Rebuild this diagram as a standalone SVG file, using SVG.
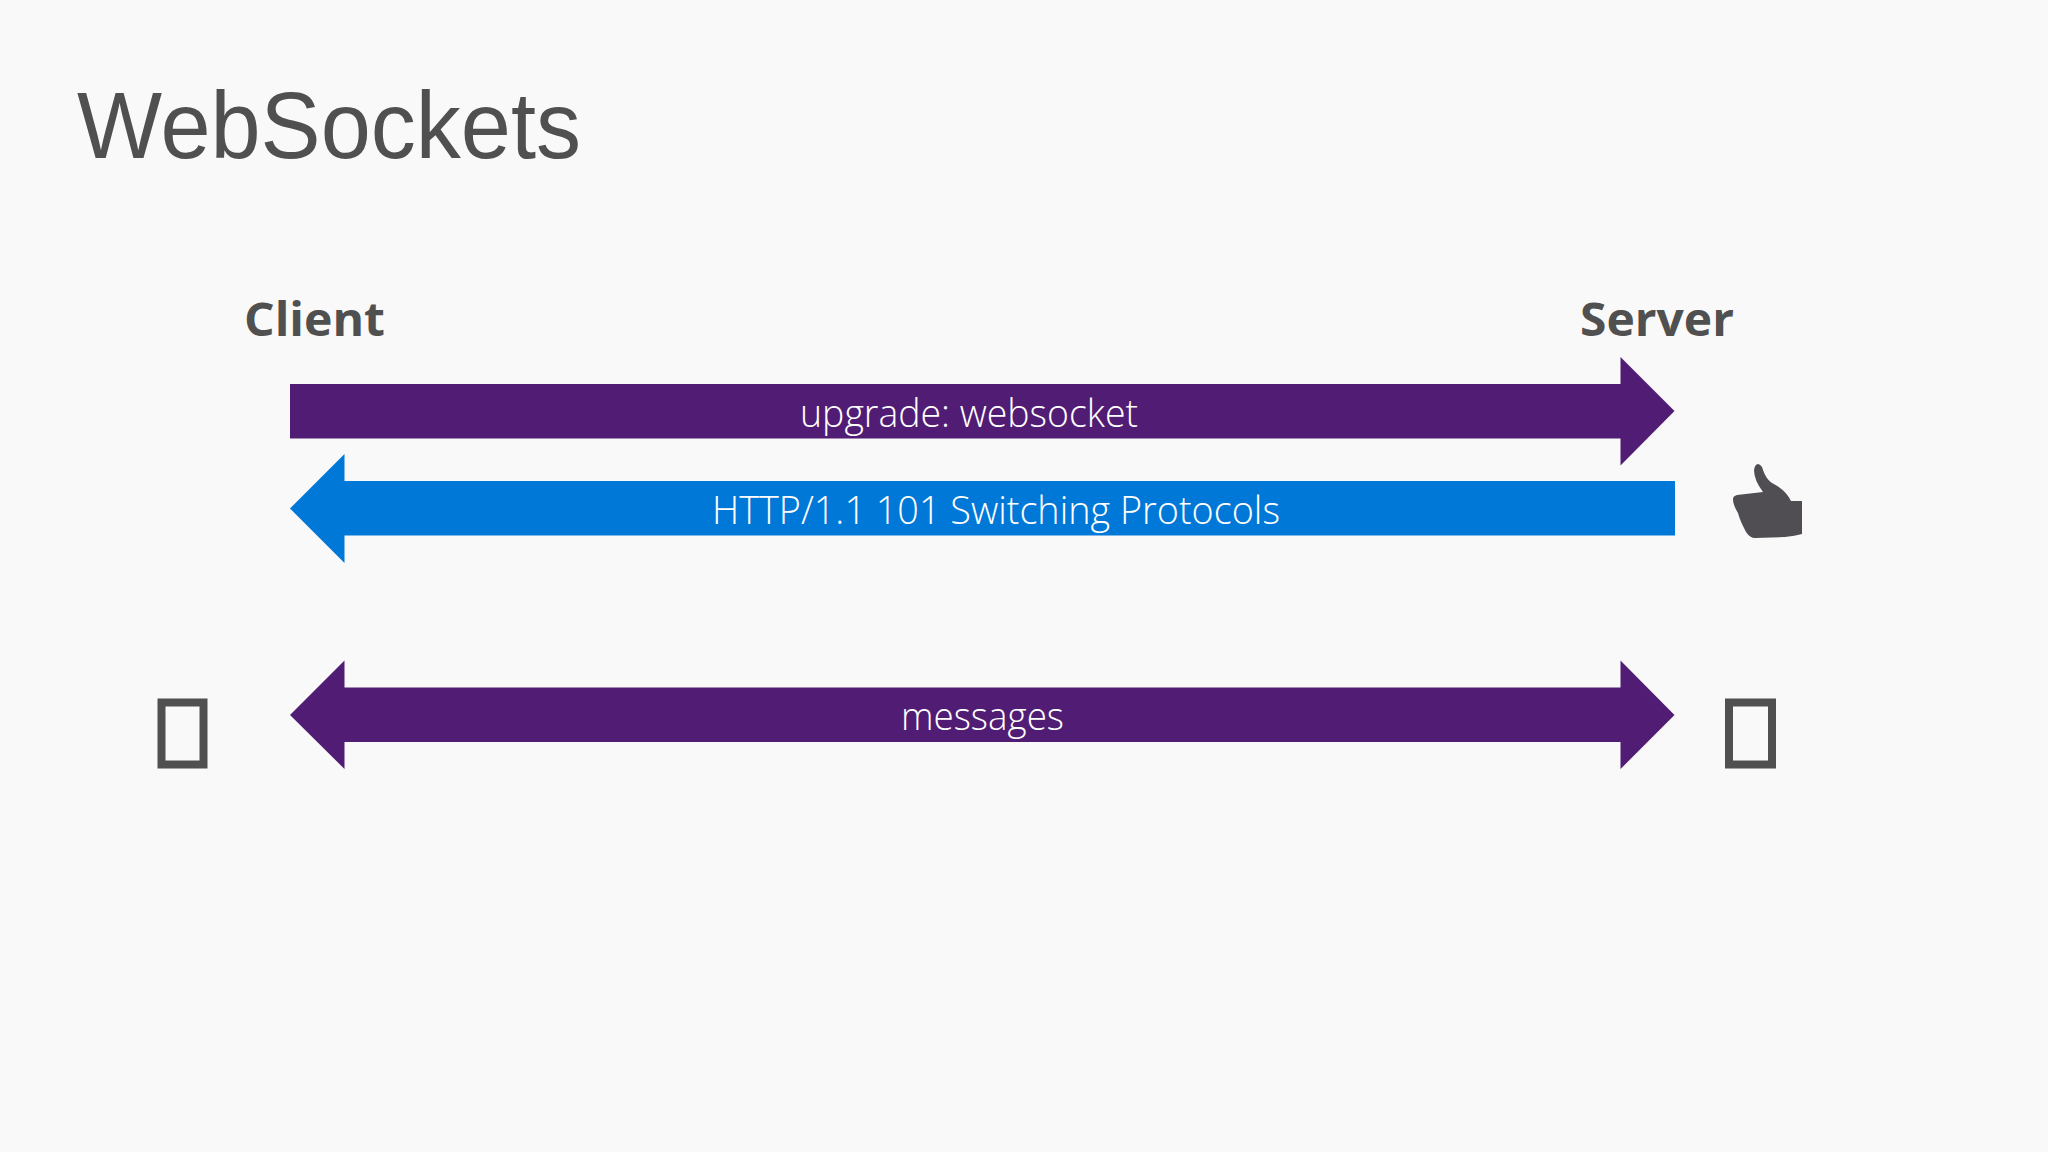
<svg xmlns="http://www.w3.org/2000/svg" width="2048" height="1152" viewBox="0 0 2048 1152">
<style>
.title{font-family:"Liberation Sans",Arial,sans-serif;font-size:95px;fill:#505050}
.head{font-family:"Open Sans","Noto Sans",sans-serif;font-weight:700;font-size:47px;fill:#505050}
.lbl{font-family:"Open Sans","Noto Sans",sans-serif;font-weight:350;font-size:38px;fill:#fff}
.purple{fill:#511c74}
.blue{fill:#0078d7}
.box{fill:none;stroke:#505050;stroke-width:8}
</style>
<rect width="2048" height="1152" fill="#f9f9f9"/>
<text id="title" class="title" x="77" y="158" textLength="504" lengthAdjust="spacingAndGlyphs">WebSockets</text>
<g id="client"><text class="head" x="244" y="336" textLength="141" lengthAdjust="spacingAndGlyphs">Client</text></g>
<g id="server"><text class="head" x="1580" y="336" textLength="154" lengthAdjust="spacingAndGlyphs">Server</text></g>
<g id="connectors">
<g id="upgrade"><polygon class="purple" points="290,384 1620.500,384 1620.500,357 1674.500,411 1620.500,465.500 1620.500,438.500 290,438.500"/>
<text class="lbl" x="800" y="426.500" textLength="338" lengthAdjust="spacingAndGlyphs">upgrade: websocket</text></g>
<g id="switching"><polygon class="blue" points="1675,481 344.500,481 344.500,454 290,508.500 344.500,563 344.500,535.500 1675,535.500"/>
<text class="lbl" x="712" y="524" textLength="568" lengthAdjust="spacingAndGlyphs">HTTP/1.1 101 Switching Protocols</text></g>
<g id="messages"><polygon class="purple" points="290,715 344.500,660.500 344.500,687.500 1620.500,687.500 1620.500,660.500 1674.500,715 1620.500,769 1620.500,742 344.500,742 344.500,769"/>
<text class="lbl" x="901" y="730" textLength="163" lengthAdjust="spacingAndGlyphs">messages</text></g>
</g>
<g id="thumb"><path fill="#504e53" d="M1733,499 Q1733,496 1737,495 L1763,492 Q1754,480 1754,470 Q1755,464 1758,464 Q1762,465 1763,470 Q1766,479 1772,483 Q1786,490 1791,501 L1802,501 L1802,534 Q1795,536 1785,537 L1755,538 Q1750,538 1746,532 L1742,524 Q1739,517 1738,513 Q1733,505 1733,499 Z"/></g>
<g id="client-box"><rect class="box" x="161.500" y="702.500" width="42" height="62"/></g>
<g id="server-box"><rect class="box" x="1729" y="702.500" width="43" height="62"/></g>
</svg>
